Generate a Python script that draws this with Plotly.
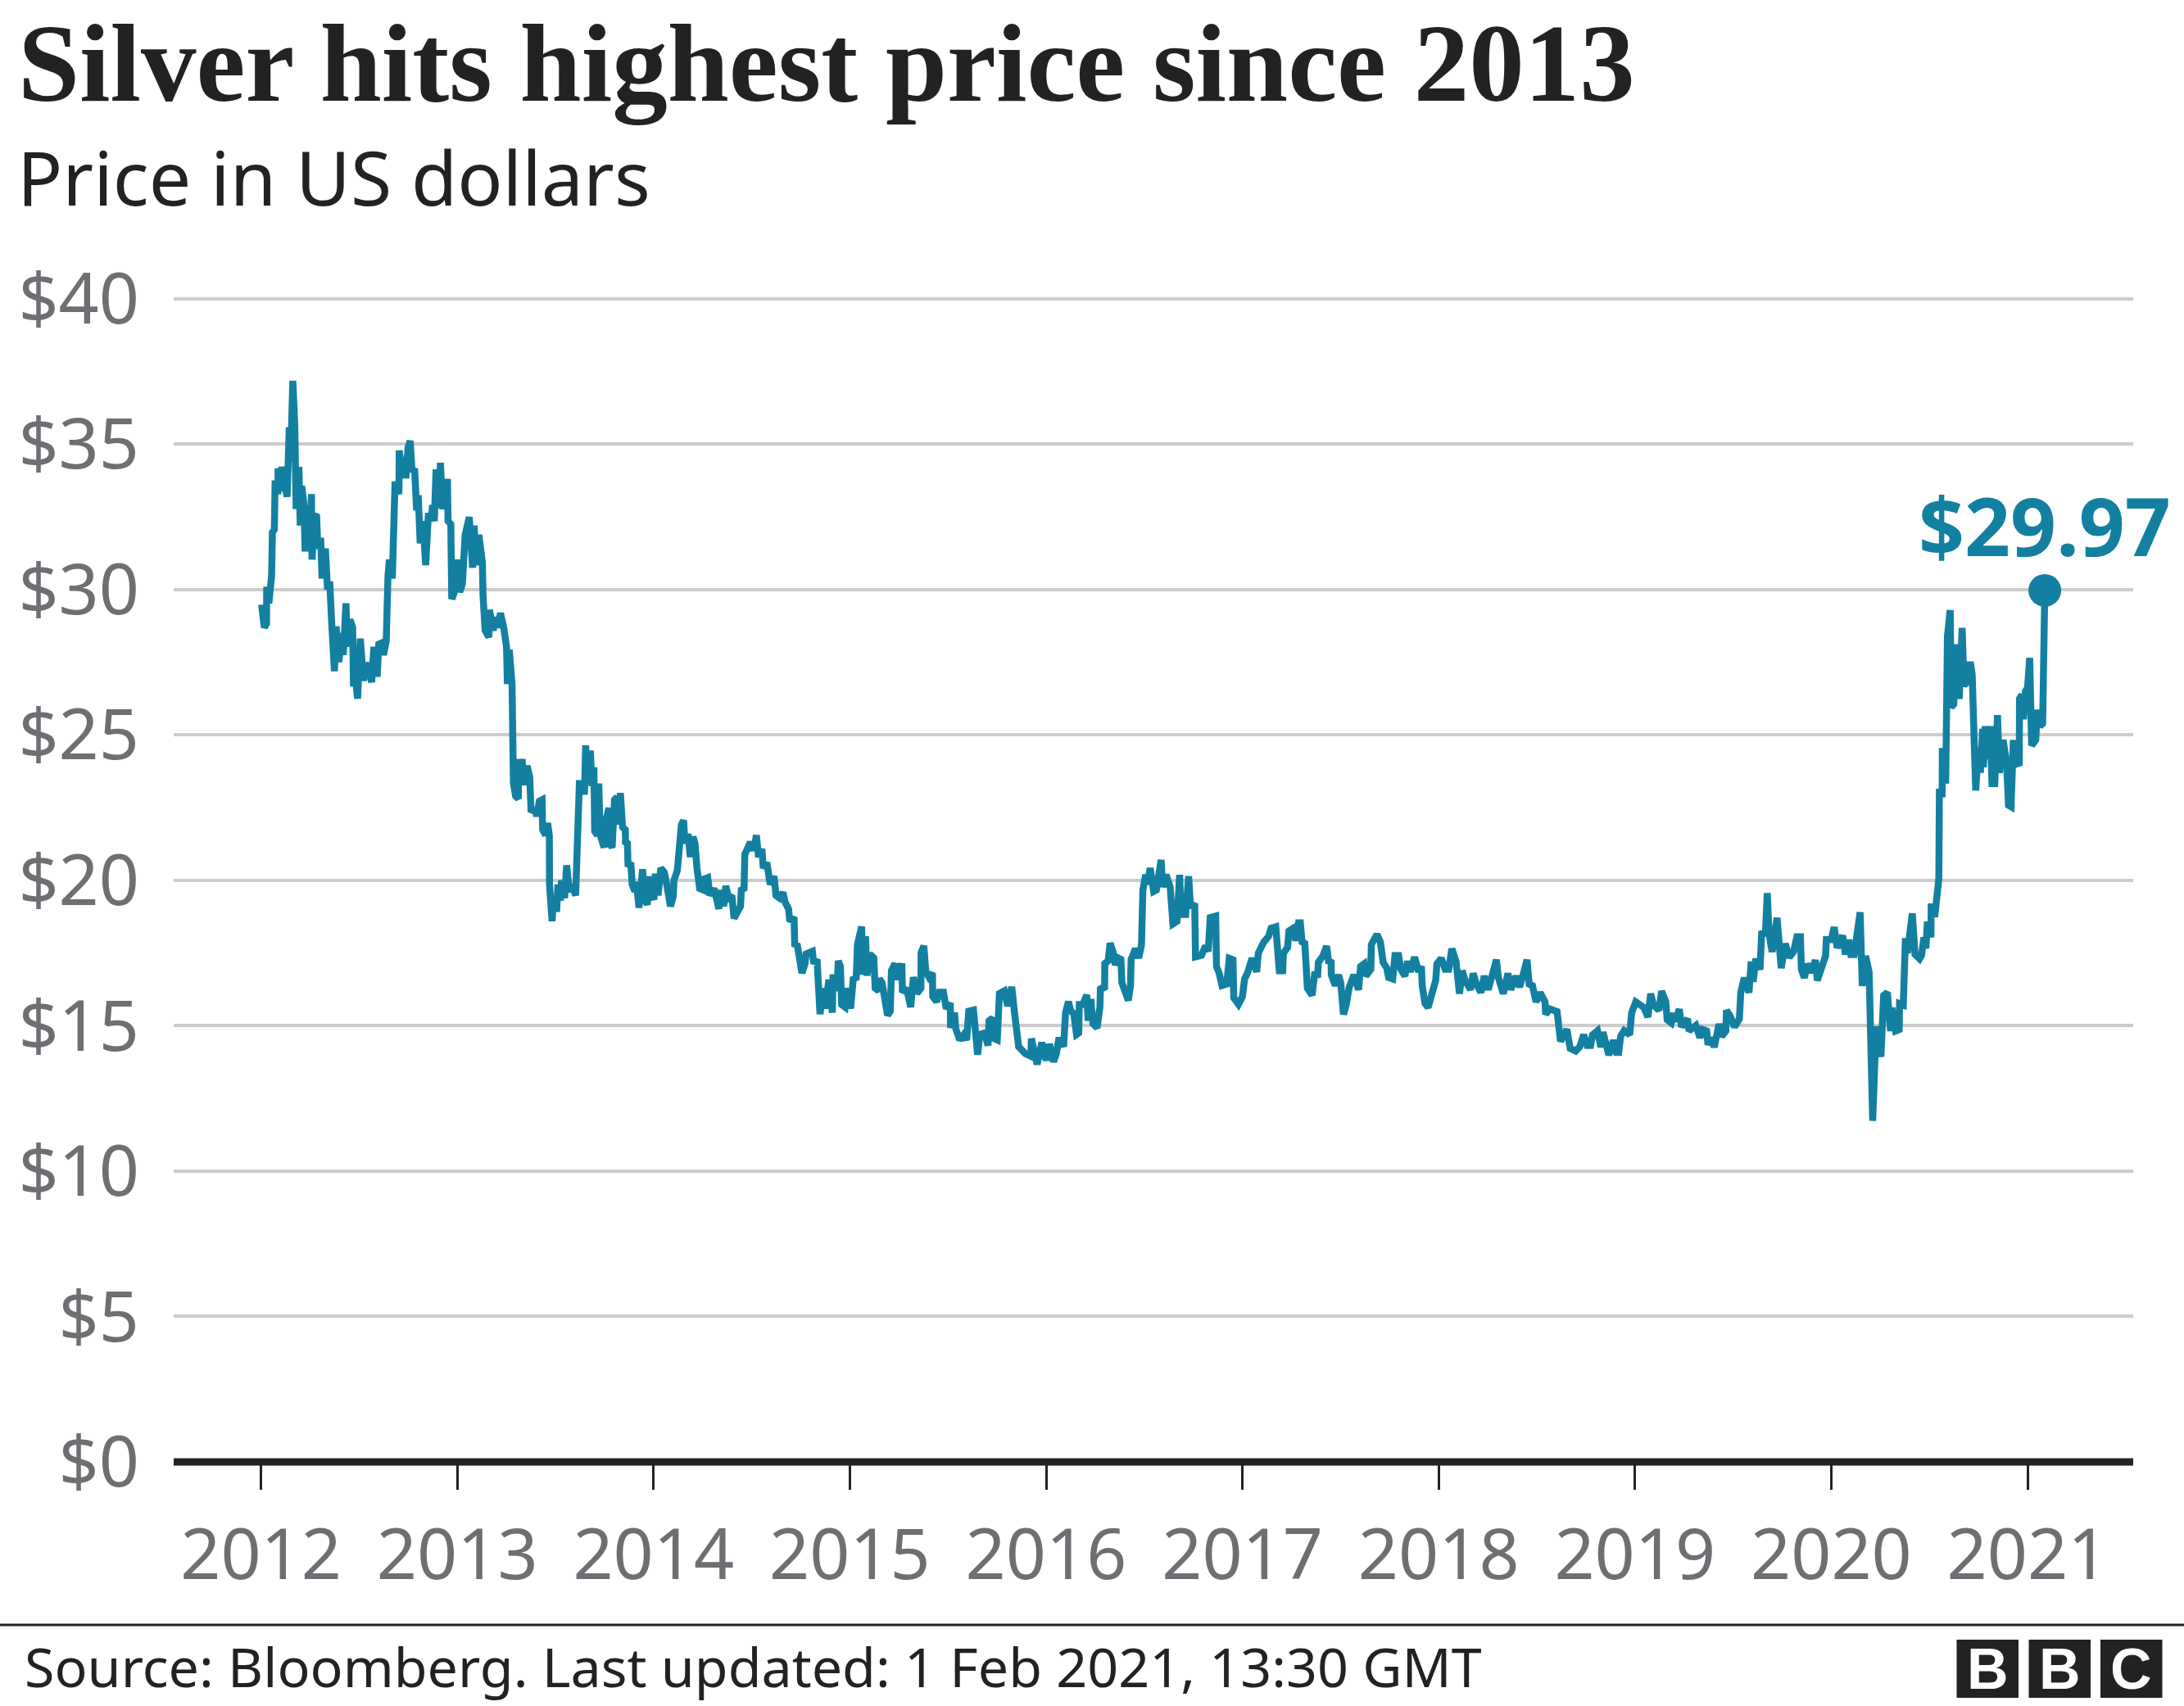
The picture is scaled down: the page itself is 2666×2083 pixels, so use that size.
import plotly.graph_objects as go

# price, x is the year as a decimal
years = [
    2012.003, 2012.008, 2012.017, 2012.028, 2012.029, 2012.040, 2012.054, 2012.058, 2012.068, 2012.072,
    2012.086, 2012.087, 2012.097, 2012.106, 2012.119, 2012.133, 2012.144, 2012.151, 2012.162, 2012.172,
    2012.179, 2012.193, 2012.200, 2012.207, 2012.218, 2012.225, 2012.231, 2012.249, 2012.257, 2012.260,
    2012.272, 2012.283, 2012.290, 2012.304, 2012.311, 2012.328, 2012.339, 2012.350, 2012.360, 2012.374,
    2012.383, 2012.397, 2012.411, 2012.419, 2012.433, 2012.439, 2012.453, 2012.467, 2012.471, 2012.481,
    2012.492, 2012.506, 2012.522, 2012.533, 2012.547, 2012.564, 2012.575, 2012.592, 2012.600, 2012.617,
    2012.624, 2012.638, 2012.647, 2012.654, 2012.669, 2012.679, 2012.683, 2012.703, 2012.704, 2012.721,
    2012.739, 2012.749, 2012.760, 2012.769, 2012.783, 2012.793, 2012.801, 2012.811, 2012.825, 2012.839,
    2012.853, 2012.867, 2012.874, 2012.883, 2012.892, 2012.908, 2012.914, 2012.925, 2012.950, 2012.953,
    2012.967, 2012.972, 2012.985, 2012.999,
    2013.012, 2013.026, 2013.040, 2013.061, 2013.078, 2013.086, 2013.096, 2013.110, 2013.128, 2013.131,
    2013.142, 2013.161, 2013.164, 2013.183, 2013.195, 2013.207, 2013.220, 2013.237, 2013.251, 2013.255,
    2013.265, 2013.279, 2013.283, 2013.286, 2013.297, 2013.311, 2013.314, 2013.325, 2013.330, 2013.341,
    2013.355, 2013.369, 2013.376, 2013.397, 2013.404, 2013.418, 2013.432, 2013.435, 2013.450, 2013.460,
    2013.469, 2013.470, 2013.483, 2013.492, 2013.506, 2013.513, 2013.525, 2013.531, 2013.547, 2013.557,
    2013.571, 2013.585, 2013.603, 2013.613, 2013.622, 2013.640, 2013.648, 2013.654, 2013.664, 2013.678,
    2013.686, 2013.696, 2013.700, 2013.714, 2013.721, 2013.728, 2013.748, 2013.759, 2013.773, 2013.777,
    2013.789, 2013.801, 2013.814, 2013.821, 2013.831, 2013.842, 2013.856, 2013.857, 2013.867, 2013.870,
    2013.884, 2013.891, 2013.905, 2013.912, 2013.926, 2013.944, 2013.954, 2013.968, 2013.974, 2013.984,
    2014.002, 2014.009, 2014.023, 2014.037, 2014.054, 2014.062, 2014.086, 2014.100, 2014.104, 2014.121,
    2014.132, 2014.142, 2014.153, 2014.160, 2014.176, 2014.187, 2014.201, 2014.211, 2014.221, 2014.235,
    2014.253, 2014.260, 2014.276, 2014.287, 2014.308, 2014.318, 2014.333, 2014.343, 2014.357, 2014.368,
    2014.382, 2014.399, 2014.410, 2014.424, 2014.443, 2014.447, 2014.461, 2014.465, 2014.479, 2014.493,
    2014.510, 2014.524, 2014.535, 2014.552, 2014.559, 2014.577, 2014.594, 2014.614, 2014.624, 2014.642,
    2014.659, 2014.670, 2014.688, 2014.694, 2014.716, 2014.719, 2014.733, 2014.744, 2014.756, 2014.772,
    2014.777, 2014.809, 2014.816, 2014.833, 2014.837, 2014.848, 2014.865, 2014.875, 2014.893, 2014.911,
    2014.914, 2014.934, 2014.941, 2014.952, 2014.958, 2014.976, 2014.987,
    2015.004, 2015.018, 2015.032, 2015.039, 2015.060, 2015.066, 2015.080, 2015.087, 2015.101, 2015.122,
    2015.129, 2015.147, 2015.150, 2015.164, 2015.178, 2015.192, 2015.206, 2015.212, 2015.230, 2015.240,
    2015.265, 2015.268, 2015.289, 2015.310, 2015.324, 2015.342, 2015.362, 2015.363, 2015.377, 2015.387,
    2015.403, 2015.421, 2015.422, 2015.442, 2015.456, 2015.477, 2015.491, 2015.512, 2015.513, 2015.533,
    2015.540, 2015.560, 2015.581, 2015.595, 2015.606, 2015.630, 2015.651, 2015.662, 2015.686, 2015.704,
    2015.709, 2015.727, 2015.735, 2015.751, 2015.762, 2015.787, 2015.804, 2015.825, 2015.839, 2015.848,
    2015.860, 2015.894, 2015.922, 2015.925, 2015.943, 2015.954, 2015.978,
    2016.000, 2016.017, 2016.038, 2016.052, 2016.066, 2016.089, 2016.099, 2016.114, 2016.124, 2016.141,
    2016.155, 2016.166, 2016.169, 2016.187, 2016.207, 2016.214, 2016.228, 2016.238, 2016.260, 2016.274,
    2016.277, 2016.298, 2016.299, 2016.316, 2016.326, 2016.340, 2016.353, 2016.367, 2016.381, 2016.386,
    2016.402, 2016.419, 2016.430, 2016.433, 2016.455, 2016.472, 2016.486, 2016.493, 2016.507, 2016.516,
    2016.530, 2016.548, 2016.562, 2016.586, 2016.594, 2016.611, 2016.632, 2016.646, 2016.667, 2016.680,
    2016.687, 2016.711, 2016.726, 2016.736, 2016.757, 2016.761, 2016.792, 2016.812, 2016.826, 2016.836,
    2016.864, 2016.868, 2016.882, 2016.896, 2016.920, 2016.933, 2016.952, 2016.956, 2016.980,
    2017.000, 2017.011, 2017.028, 2017.049, 2017.073, 2017.081, 2017.109, 2017.133, 2017.146, 2017.170,
    2017.174, 2017.188, 2017.205, 2017.209, 2017.230, 2017.237, 2017.258, 2017.272, 2017.286, 2017.295,
    2017.304, 2017.318, 2017.331, 2017.355, 2017.369, 2017.383, 2017.387, 2017.411, 2017.429, 2017.439,
    2017.452, 2017.453, 2017.473, 2017.490, 2017.501, 2017.515, 2017.529, 2017.543, 2017.568, 2017.592,
    2017.602, 2017.620, 2017.629, 2017.654, 2017.657, 2017.685, 2017.703, 2017.717, 2017.735, 2017.745,
    2017.766, 2017.777, 2017.796, 2017.807, 2017.828, 2017.842, 2017.856, 2017.877, 2017.898, 2017.912,
    2017.916, 2017.930, 2017.946, 2017.971, 2017.985, 2017.991,
    2018.013, 2018.033, 2018.051, 2018.067, 2018.088, 2018.097, 2018.106, 2018.120, 2018.134, 2018.162,
    2018.176, 2018.190, 2018.215, 2018.232, 2018.252, 2018.273, 2018.294, 2018.304, 2018.329, 2018.353,
    2018.367, 2018.394, 2018.412, 2018.430, 2018.450, 2018.461, 2018.478, 2018.496, 2018.517, 2018.542,
    2018.545, 2018.565, 2018.603, 2018.621, 2018.653, 2018.670, 2018.698, 2018.718, 2018.739, 2018.756,
    2018.774, 2018.784, 2018.809, 2018.826, 2018.837, 2018.867, 2018.890, 2018.906, 2018.917, 2018.927,
    2018.945, 2018.973, 2018.983,
    2019.004, 2019.045, 2019.066, 2019.080, 2019.094, 2019.122, 2019.136, 2019.157, 2019.164, 2019.185,
    2019.198, 2019.205, 2019.226, 2019.237, 2019.268, 2019.275, 2019.310, 2019.331, 2019.345, 2019.365,
    2019.372, 2019.390, 2019.404, 2019.428, 2019.442, 2019.463, 2019.466, 2019.484, 2019.507, 2019.532,
    2019.539, 2019.557, 2019.581, 2019.592, 2019.602, 2019.616, 2019.637, 2019.646, 2019.664, 2019.674,
    2019.683, 2019.699, 2019.724, 2019.745, 2019.766, 2019.786, 2019.808, 2019.825, 2019.843, 2019.848,
    2019.863, 2019.877, 2019.901, 2019.919, 2019.929, 2019.950, 2019.971, 2019.975,
    2020.000, 2020.015, 2020.030, 2020.058, 2020.072, 2020.089, 2020.100, 2020.117, 2020.147, 2020.158,
    2020.175, 2020.193, 2020.211, 2020.228, 2020.235, 2020.253, 2020.267, 2020.286, 2020.302, 2020.309,
    2020.328, 2020.346, 2020.348, 2020.367, 2020.370, 2020.378, 2020.388, 2020.413, 2020.427, 2020.450,
    2020.460, 2020.472, 2020.482, 2020.490, 2020.508, 2020.509, 2020.527, 2020.535, 2020.548, 2020.551,
    2020.565, 2020.566, 2020.583, 2020.592,
    2020.606, 2020.611, 2020.624, 2020.634, 2020.645, 2020.652, 2020.667, 2020.676, 2020.690, 2020.708,
    2020.718, 2020.729, 2020.736, 2020.750, 2020.760, 2020.771, 2020.775, 2020.784, 2020.796, 2020.810,
    2020.819, 2020.833, 2020.847, 2020.857, 2020.875, 2020.893, 2020.903, 2020.916, 2020.928, 2020.940,
    2020.958, 2020.959, 2020.972, 2020.979, 2020.990,
    2021.000, 2021.011, 2021.021, 2021.042, 2021.049, 2021.063, 2021.077, 2021.088,
]
prices = [
    29.48, 29.11, 28.69, 28.83, 30.09, 29.53, 30.47, 31.97, 32.06, 33.75,
    33.28, 34.17, 33.38, 34.22, 33.56, 33.19, 35.58, 34.41, 37.18, 35.68,
    32.77, 34.22, 32.20, 33.56, 33.00, 31.31, 32.90, 31.50, 33.28, 31.03,
    32.53, 32.58, 31.40, 31.78, 30.38, 31.41, 30.00, 30.28, 28.87, 27.19,
    28.73, 27.51, 28.50, 27.75, 29.53, 28.03, 28.97, 28.69, 26.67, 27.00,
    26.25, 28.31, 26.86, 27.47, 27.28, 26.81, 28.03, 27.00, 28.12, 28.17,
    27.75, 28.22, 30.47, 31.03, 30.38, 32.35, 33.71, 33.28, 34.78, 33.94,
    33.94, 34.88, 35.11, 34.13, 34.08, 32.72, 33.24, 31.59, 32.35, 30.84,
    32.63, 32.35, 32.91, 32.35, 34.13, 32.81, 34.36, 32.77, 33.80, 32.35,
    32.25, 29.67, 29.91, 31.03,
    29.91, 30.19, 31.88, 32.49, 30.75, 32.20, 30.84, 31.88, 30.94, 29.81,
    28.59, 28.36, 29.30, 28.59, 29.05, 28.69, 29.19, 28.68, 28.02, 26.75,
    27.93, 26.75, 25.86, 23.33, 22.90, 22.81, 24.17, 23.28, 24.17, 23.28,
    23.94, 23.56, 22.35, 22.49, 22.20, 22.72, 22.77, 21.74, 21.55, 21.97,
    21.55, 19.86, 18.60, 19.48, 18.92, 19.86, 19.30, 20.00, 19.39, 20.52,
    19.62, 19.86, 19.48, 21.31, 23.33, 23.33, 22.95, 24.64, 23.33, 24.46,
    23.24, 23.89, 21.69, 21.55, 23.33, 21.55, 21.13, 22.11, 22.49, 21.27,
    21.13, 22.77, 22.86, 21.92, 23.00, 21.83, 21.74, 21.31, 21.27, 20.47,
    20.61, 19.86, 19.62, 19.95, 19.06, 20.38, 19.39, 19.16, 20.14, 19.58,
    19.34, 20.23, 19.48, 20.42, 20.28, 20.05, 19.11, 19.44, 20.00, 20.33,
    21.45, 21.92, 22.06, 21.27, 21.59, 20.80, 21.50, 21.27, 20.42, 19.72,
    19.67, 20.05, 20.09, 19.48, 19.72, 19.30, 19.02, 19.67, 19.11, 19.81,
    19.39, 19.48, 18.69, 18.87, 19.11, 19.67, 19.72, 20.89, 21.13, 21.31,
    21.03, 21.55, 20.80, 21.08, 20.42, 20.61, 19.86, 20.14, 19.48, 19.39,
    19.58, 19.25, 19.01, 18.59, 18.73, 17.80, 17.75, 17.14, 16.81, 17.14,
    17.47, 17.56, 17.14, 17.28, 16.11, 15.40, 16.29, 15.59, 16.58, 15.45,
    16.76, 16.20, 17.23, 17.04, 15.73, 15.64, 16.29,
    15.59, 16.67, 16.58, 17.80, 18.41, 16.76, 18.08, 16.72, 17.47, 17.33,
    16.29, 16.20, 16.62, 16.48, 15.92, 15.36, 15.50, 16.90, 17.14, 16.58,
    17.14, 16.15, 16.29, 15.64, 16.67, 16.11, 16.29, 17.51, 17.75, 16.86,
    16.67, 16.81, 16.01, 15.83, 16.15, 16.15, 15.59, 15.78, 14.93, 15.45,
    14.89, 14.51, 14.70, 14.51, 15.50, 15.54, 14.00, 14.70, 14.75, 14.32,
    15.17, 15.26, 14.56, 14.51, 16.11, 16.20, 15.68, 16.34, 15.45, 14.70,
    14.28, 14.04, 13.95, 14.56, 14.04, 13.67, 14.42,
    13.81, 14.37, 13.76, 14.04, 14.60, 14.28, 15.45, 15.83, 15.54, 15.40,
    14.70, 14.75, 15.73, 15.73, 16.06, 15.17, 15.92, 15.08, 14.93, 15.64,
    16.34, 16.25, 17.14, 17.23, 17.84, 17.56, 17.09, 17.33, 17.28, 16.48,
    16.25, 15.87, 16.39, 17.28, 17.65, 17.33, 17.79, 19.67, 20.19, 19.86,
    20.42, 19.62, 19.67, 20.70, 19.77, 20.19, 19.77, 18.50, 18.59, 20.19,
    18.83, 18.83, 20.14, 19.06, 19.20, 17.37, 17.42, 17.75, 17.56, 18.72,
    18.77, 17.04, 16.80, 16.38, 16.43, 17.32, 17.27, 15.96, 15.74,
    16.00, 16.61, 16.85, 17.32, 16.85, 17.50, 17.88, 18.07, 18.35, 18.40,
    17.79, 16.89, 16.89, 17.50, 17.69, 18.26, 18.35, 17.93, 18.54, 18.54,
    17.88, 17.83, 16.29, 16.05, 16.85, 16.66, 17.18, 17.41, 17.74, 17.22,
    17.18, 16.75, 16.38, 16.75, 16.47, 15.39, 15.72, 16.29, 16.75, 16.24,
    17.04, 17.13, 16.71, 16.94, 17.79, 18.14, 17.88, 17.18, 16.99, 16.66,
    16.61, 17.41, 17.41, 16.94, 16.71, 17.22, 16.85, 17.36, 16.85, 17.04,
    16.38, 15.77, 15.63, 16.19, 16.57, 17.13,
    17.32, 16.94, 16.94, 17.65, 17.22, 16.66, 16.10, 16.89, 16.57, 16.24,
    16.80, 16.47, 16.14, 16.71, 16.24, 16.75, 17.27, 16.66, 16.10, 16.80,
    16.24, 16.71, 16.33, 16.75, 17.27, 16.43, 16.38, 15.82, 16.14, 15.82,
    15.39, 15.58, 15.49, 14.46, 14.88, 14.22, 14.13, 14.27, 14.69, 14.32,
    14.32, 14.69, 14.83, 14.27, 14.78, 13.99, 14.50, 14.08, 14.08, 14.64,
    14.83, 14.69, 15.44,
    15.82, 15.63, 15.30, 16.10, 15.72, 15.53, 16.19, 15.82, 15.21, 15.10,
    15.43, 15.15, 15.57, 14.96, 15.24, 14.82, 15.01, 14.59, 14.87, 14.82,
    14.35, 14.59, 14.26, 15.06, 14.63, 14.82, 15.53, 15.34, 14.96, 15.24,
    16.14, 16.65, 16.14, 17.21, 16.51, 17.31, 16.93, 18.25, 18.10, 19.56,
    18.15, 17.54, 18.71, 16.98, 17.82, 17.35, 17.54, 18.06, 18.06, 16.93,
    16.65, 17.12, 16.84, 17.26, 16.56, 16.98, 17.40, 17.96,
    17.96, 18.39, 17.68, 18.10, 17.45, 17.96, 17.45, 17.45, 18.90, 16.37,
    17.40, 16.84, 11.73, 14.87, 14.87, 13.93, 16.04, 16.14, 14.82, 15.62,
    14.82, 14.87, 15.76, 15.71, 17.21, 18.01, 17.50, 18.86, 17.45, 17.30,
    17.42, 18.04, 17.66, 18.58, 18.04, 19.20, 18.74, 19.60, 20.04, 23.14,
    22.86, 24.55, 23.33, 28.40,
    29.29, 25.96, 26.05, 28.12, 26.33, 26.24, 28.68, 26.71, 26.80, 27.51,
    27.08, 23.09, 23.09, 24.55, 23.70, 25.21, 23.89, 25.30, 24.17, 25.30,
    23.33, 23.33, 25.68, 23.70, 24.83, 24.08, 22.58, 22.53, 24.83, 23.99,
    24.03, 26.24, 26.38, 25.54, 26.52,
    26.62, 27.65, 24.64, 24.83, 25.86, 25.30, 25.39, 29.97,
]

year_ticks = [2012, 2013, 2014, 2015, 2016, 2017, 2018, 2019, 2020, 2021]
price_ticks = [0, 5, 10, 15, 20, 25, 30, 35, 40]
price_labels = ["$0", "$5", "$10", "$15", "$20", "$25", "$30", "$35", "$40"]
last_label = "$29.97"

TEAL = "#1380a1"
DARK = "#222222"
GREY = "#6e6e73"
SANS = "Noto Sans"

W, H = 2666, 2083
# plot area; the top runs half a dollar past $40 so that grid line is kept
L, R, T, B = 212, 2604, 347.25, 1785


def px(x):
    return (x - L) / (R - L)


def py(y):
    return (B - y) / (B - T)


fig = go.Figure()
fig.add_trace(go.Scatter(x=years, y=prices, mode="lines",
                         line=dict(color=TEAL, width=8.5, shape="linear"),
                         hoverinfo="skip", showlegend=False))
fig.add_trace(go.Scatter(x=years[-1:], y=prices[-1:], mode="markers",
                         marker=dict(color=TEAL, size=40),
                         hoverinfo="skip", showlegend=False))

fig.update_layout(
    width=W, height=H, autosize=False,
    margin=dict(l=L, r=W - R, t=T, b=H - B, pad=0),
    paper_bgcolor="white", plot_bgcolor="white",
    showlegend=False,
)
fig.update_xaxes(
    range=[2012 + (L - 318.6) / 239.6, 2012 + (R - 318.6) / 239.6],
    tickvals=year_ticks, ticktext=[str(y) for y in year_ticks],
    ticks="outside", ticklen=33, tickwidth=3, tickcolor=DARK,
    tickfont=dict(family=SANS, size=86, color=GREY),
    ticklabelstandoff=6,
    showgrid=False, zeroline=False, showline=False,
)
fig.update_yaxes(
    range=[0, 40.5], tickvals=price_ticks, ticktext=price_labels,
    ticks="", tickfont=dict(family=SANS, size=86, color=GREY),
    ticklabelstandoff=41,
    showgrid=True, gridcolor="#cccccc", gridwidth=3.5,
    zeroline=False, showline=False,
)

# base line, footer rule
fig.add_shape(type="line", xref="paper", yref="paper", x0=0, x1=1, y0=py(1785), y1=py(1785),
              line=dict(color=DARK, width=9))
fig.add_shape(type="line", xref="paper", yref="paper", x0=px(0), x1=px(W),
              y0=py(1984), y1=py(1984), line=dict(color=DARK, width=3))

# bbc blocks
for left, letter in zip([2388.5, 2476.5, 2564], "BBC"):
    fig.add_shape(type="rect", xref="paper", yref="paper", x0=px(left), x1=px(left + 75.5),
                  y0=py(2002), y1=py(2073), fillcolor=DARK, line=dict(width=0))
    fig.add_annotation(xref="paper", yref="paper", x=px(left + 37.7), y=py(2037.5),
                       text=f"<b>{letter}</b>", showarrow=False, xanchor="center", yanchor="middle",
                       font=dict(family="Liberation Sans", size=70, color="white"))

fig.add_annotation(x=years[-1], y=prices[-1], yshift=80, text=f"<b>{last_label}</b>", showarrow=False,
                   xanchor="center", yanchor="middle",
                   font=dict(family=SANS, size=98, color=TEAL))
fig.add_annotation(xref="paper", yref="paper", x=px(20), y=py(78), xanchor="left", yanchor="middle",
                   text="<b>Silver hits highest price since 2013</b>", showarrow=False,
                   font=dict(family="Liberation Serif", size=135, color=DARK))
fig.add_annotation(xref="paper", yref="paper", x=px(19), y=py(216), xanchor="left", yanchor="middle",
                   text="Price in US dollars", showarrow=False,
                   font=dict(family=SANS, size=91.5, color=DARK))
fig.add_annotation(xref="paper", yref="paper", x=px(28), y=py(2034), xanchor="left", yanchor="middle",
                   text="Source: Bloomberg. Last updated: 1 Feb 2021, 13:30 GMT", showarrow=False,
                   font=dict(family=SANS, size=66.4, color=DARK))

assert len(years) == len(prices)

fig.write_html("out.html", config={"displayModeBar": False},
               post_script="document.body.style.margin='0';")
